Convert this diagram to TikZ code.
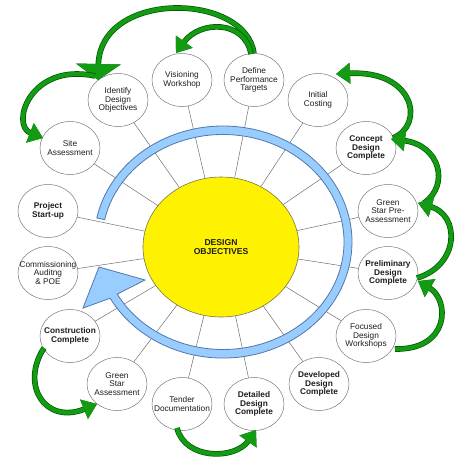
\documentclass[tikz,border=0pt]{standalone}
\usepackage{fontspec}
\setmainfont{Liberation Sans}
\usetikzlibrary{arrows.meta,shapes.geometric}
\definecolor{gfill}{RGB}{20,155,20}
\definecolor{gdark}{RGB}{0,85,0}
\definecolor{ringfill}{RGB}{153,204,255}
\definecolor{ringdraw}{RGB}{80,120,170}
\definecolor{nodedraw}{RGB}{120,120,120}
\definecolor{spokecol}{RGB}{110,110,110}
\definecolor{txtcol}{RGB}{30,30,30}
\begin{document}
\begin{tikzpicture}[x=1pt,y=-1pt,
  stage/.style={ellipse, draw=nodedraw, line width=0.5pt, fill=white,
    minimum width=60pt, minimum height=53pt, inner sep=0pt},
  lbl/.style={align=center, text=txtcol, inner sep=0pt,
    font=\fontsize{8.3}{8.8}\selectfont},
  blbl/.style={lbl, font=\fontsize{8.3}{8.8}\selectfont\bfseries},
  spoke/.style={draw=spokecol, line width=0.5pt},
  ring/.style={draw=ringdraw, fill=ringfill, line width=0.8pt, line join=miter},
  garrow/.style={draw=gfill, line width=4.2pt,
    -{Triangle[length=#1]},
    preaction={draw=gdark, line width=5.6pt, -{Triangle[length=#1]}}},
  garrow/.default={14pt,width=20pt}
]
\useasboundingbox (0,0) rectangle (474,467);

% centre
\node[ellipse, draw=black!60!yellow, fill=yellow, line width=0.6pt,
  minimum width=156pt, minimum height=140pt, inner sep=0pt] (core) at (221,247) {};
\node[blbl, font=\fontsize{8.6}{9.2}\selectfont\bfseries] (coretext) at (core.center) {DESIGN\\OBJECTIVES};

% stages
\node[stage, label={[lbl]center:Visioning\\Workshop}] (s1) at (182,80) {};
\node[stage, label={[lbl]center:Define\\Performance\\Targets}] (s2) at (254,80) {};
\node[stage, label={[lbl]center:Initial\\Costing}] (s3) at (318,100) {};
\node[stage, label={[blbl]center:Concept\\Design\\Complete}] (s4) at (366,148) {};
\node[stage, label={[lbl]center:Green\\Star Pre-\\Assessment}] (s5) at (388,211) {};
\node[stage, label={[blbl]center:Preliminary\\Design\\Complete}] (s6) at (388,273) {};
\node[stage, label={[lbl]center:Focused\\Design\\Workshops}] (s7) at (366,336) {};
\node[stage, label={[blbl]center:Developed\\Design\\Complete}] (s8) at (319,384) {};
\node[stage, label={[blbl]center:Detailed\\Design\\Complete}] (s9) at (254,404) {};
\node[stage, label={[lbl]center:Tender\\Documentation}] (s10) at (182,404) {};
\node[stage, label={[lbl]center:Green\\Star\\Assessment}] (s11) at (117,384) {};
\node[stage, label={[blbl]center:Construction\\Complete}] (s12) at (70,336) {};
\node[stage, label={[lbl]center:Commissioning\\Auditng\\\& POE}] (s13) at (48,273) {};
\node[stage, label={[blbl]center:Project\\Start-up}] (s14) at (48,211) {};
\node[stage, label={[lbl]center:Site\\Assessment}] (s15) at (70,148) {};
\node[stage, label={[lbl]center:Identify\\Design\\Objectives}] (s16) at (118,100) {};

% spokes
\foreach \i in {1,...,16} \draw[spoke] (s\i) -- (core);

% blue ring with arrowhead
\draw[ring] (96.8,217.9)
  arc[start angle=-168, end angle=151, x radius=129, y radius=116]
  -- (83,308) -- (99,267) -- (145,280) -- (117.2,294.1)
  arc[start angle=151, end angle=-168, x radius=121, y radius=107.5]
  -- cycle;

% green iteration arrows
\draw[garrow={16pt,width=44pt}] (s2.north) .. controls (245,-8) and (100,-10) .. (98,80);
\draw[garrow] (251,54) .. controls (245,20) and (200,20) .. (176,53);
\draw[garrow] (95,76) .. controls (30,62) and (10,125) .. (43,138);
\draw[garrow] (393,138) .. controls (425,125) and (415,70) .. (336,74);
\draw[garrow] (424,203) .. controls (450,185) and (440,145) .. (391,139);
\draw[garrow] (417,278) .. controls (460,265) and (460,215) .. (418,203);
\draw[garrow] (395,349) .. controls (450,350) and (450,300) .. (418,281);
\draw[garrow] (44,348) .. controls (20,385) and (45,425) .. (97,404);
\draw[garrow] (177,428) .. controls (185,460) and (235,460) .. (256,430);
\end{tikzpicture}
\end{document}
